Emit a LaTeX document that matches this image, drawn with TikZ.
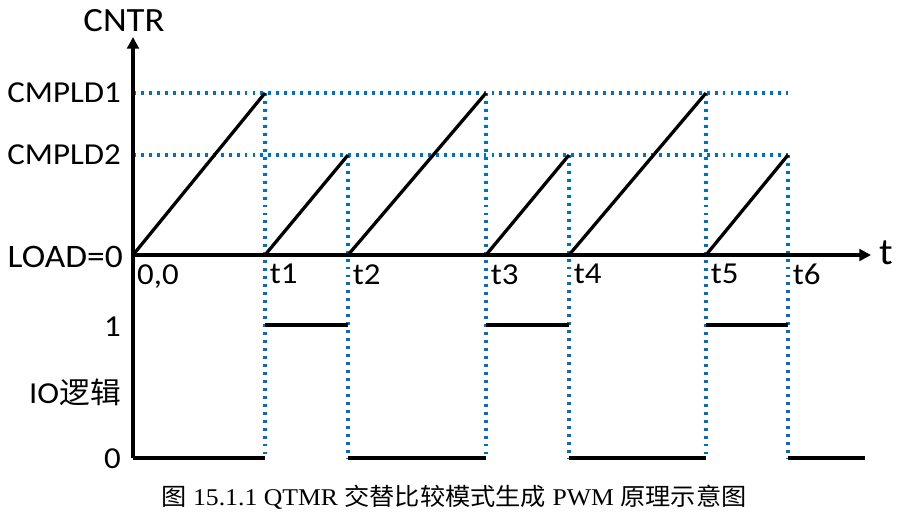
\documentclass[tikz,border=0pt]{standalone}
\usepackage{fontspec}
\setmainfont{Liberation Serif}[FakeStretch=1.07]
\newfontfamily\labelfont{Carlito}[FakeStretch=1.08]
\newfontfamily\cjk{Noto Sans CJK SC}[FakeStretch=1.05]
\usetikzlibrary{arrows.meta}
\definecolor{guideblue}{RGB}{0,112,192}
\tikzset{
  axis/.style={line width=2.6pt,-{Triangle[length=10pt,width=10pt]}},
  wave/.style={line width=2.8pt},
  guide/.style={guideblue,line width=2.6pt,dash pattern=on 2.5pt off 4.3pt},
  lbl/.style={font=\labelfont\fontsize{26}{30}\selectfont,inner sep=0pt}
}
\begin{document}
\begin{tikzpicture}[x=0.03cm,y=-0.03cm]
\useasboundingbox (0,0) rectangle (903,518);
\coordinate (t0) at (133,255);
\coordinate (c1) at (133,93);
\coordinate (c2) at (133,155);
\coordinate (hi) at (133,325);
\coordinate (lo) at (133,458);
\coordinate (ytop) at (133,37);
\coordinate (xend) at (871,255);
\coordinate (loend) at (865,458);
\foreach \n/\x in {1/265,2/348,3/486,4/569,5/706,6/788} {
  \coordinate (t\n) at (\x,255);
}
\draw[guide] (c1) -- (t6 |- c1) (c2) -- (t6 |- c2);
\foreach \b/\c in {1/c1,2/c2,3/c1,4/c2,5/c1,6/c2}
  \draw[guide] (t\b |- \c) -- (t\b |- lo);
\draw[axis] (lo) -- (ytop);
\draw[axis] (t0) -- (xend);
\foreach \a/\b/\c in {0/1/c1,1/2/c2,2/3/c1,3/4/c2,4/5/c1,5/6/c2}
  \draw[wave] (t\a) -- (t\b |- \c);
\foreach \a/\b in {1/2,3/4,5/6}
  \draw[wave] (t\a |- hi) -- (t\b |- hi);
\foreach \a/\b in {0/1,2/3,4/5}
  \draw[wave] (t\a |- lo) -- (t\b |- lo);
\draw[wave] (t6 |- lo) -- (loend);
\node[lbl,font=\labelfont\fontsize{29}{32}\selectfont] (cntr) at (124,21) {CNTR};
\node[lbl,anchor=east] (cmpldone) at (121,93) {CMPLD1};
\node[lbl,anchor=east] (cmpldtwo) at (121,155) {CMPLD2};
\node[lbl,anchor=east,font=\labelfont\fontsize{28}{32}\selectfont] (load) at (123,257) {LOAD=0};
\node[lbl,anchor=north west] (origin) at (137,264) {0,0};
\foreach \n in {1,...,6}
  \node[lbl,anchor=north west] (lt\n) at ([xshift=4pt]t\n |- 0,264) {t\n};
\node[lbl,font=\labelfont\fontsize{32}{34}\selectfont] (tlbl) at (886,253) {t};
\node[lbl,anchor=east] (one) at (121,327) {1};
\node[lbl,anchor=east] (io) at (121,392) {IO{\cjk\fontsize{25}{28}\selectfont 逻辑}};
\node[lbl,anchor=east] (zero) at (121,459) {0};
\node[font=\fontsize{20.5}{24}\selectfont,inner sep=0pt] (caption) at (454,497)
  {{\cjk 图} 15.1.1 QTMR {\cjk 交替比较模式生成} PWM {\cjk 原理示意图}};
\end{tikzpicture}
\end{document}
